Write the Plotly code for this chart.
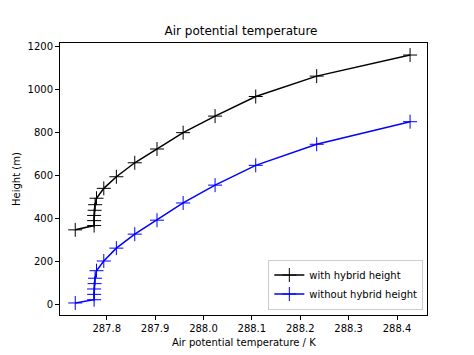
import plotly.graph_objects as go

temperature = [287.735, 287.774, 287.774, 287.774, 287.775, 287.776, 287.779, 287.794,
               287.820, 287.858, 287.904, 287.958, 288.024, 288.108, 288.234, 288.427]
height_without = [5, 20, 45, 70, 95, 120, 155, 200, 260, 325, 390, 470, 553, 645, 743, 848]
height_with = [345, 365, 388, 412, 436, 462, 492, 538, 592, 657, 721, 797, 874, 965, 1060, 1158]
x_ticks = [287.8, 287.9, 288.0, 288.1, 288.2, 288.3, 288.4]
y_ticks = [0, 200, 400, 600, 800, 1000, 1200]

fig = go.Figure()
fig.add_trace(go.Scatter(x=temperature, y=height_with, mode="lines+markers",
                         name="with hybrid height",
                         line=dict(color="black", width=1.5),
                         marker=dict(symbol="cross-thin", size=10,
                                     line=dict(color="black", width=1))))
fig.add_trace(go.Scatter(x=temperature, y=height_without, mode="lines+markers",
                         name="without hybrid height",
                         line=dict(color="blue", width=1.5),
                         marker=dict(symbol="cross-thin", size=10,
                                     line=dict(color="blue", width=1))))

axis_common = dict(showline=True, linecolor="black", linewidth=1, mirror=True,
                   ticks="outside", ticklen=4, tickcolor="black", showgrid=False,
                   zeroline=False, automargin=False, tickfont=dict(size=10, color="black"))
fig.update_layout(
    width=466, height=347,
    margin=dict(l=52, r=47, t=35, b=40),
    paper_bgcolor="white", plot_bgcolor="white",
    font=dict(family="DejaVu Sans", color="black"),
    title=dict(text="Air potential temperature", x=0.5, xanchor="center",
               y=1 - 23 / 347, yanchor="middle", font=dict(size=12)),
    xaxis=dict(range=[287.7035, 288.462], tickvals=x_ticks,
               ticktext=[f"{v:.1f}" for v in x_ticks], **axis_common),
    yaxis=dict(range=[-51, 1214], tickvals=y_ticks, **axis_common),
    legend=dict(x=0.99, y=0.02, xanchor="right", yanchor="bottom",
                bgcolor="white", bordercolor="#cccccc", borderwidth=1,
                font=dict(size=10), tracegroupgap=0),
    showlegend=True,
    annotations=[
        dict(text="Air potential temperature / K", x=0.5, y=0, xref="paper", yref="paper",
             xanchor="center", yanchor="middle", yshift=-27, showarrow=False,
             font=dict(size=10)),
        dict(text="Height (m)", x=0, y=0.5, xref="paper", yref="paper",
             xanchor="center", yanchor="middle", xshift=-44, textangle=-90,
             showarrow=False, font=dict(size=10)),
    ],
)
fig.write_html("out.html")
